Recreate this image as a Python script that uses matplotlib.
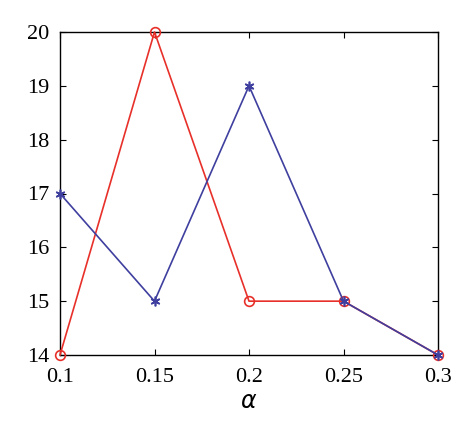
import matplotlib
matplotlib.use("Agg")
import matplotlib.pyplot as plt

alpha = [0.1, 0.15, 0.2, 0.25, 0.3]
red_vals = [14, 20, 15, 15, 14]
blue_vals = [17, 15, 19, 15, 14]
xticks = [0.1, 0.15, 0.2, 0.25, 0.3]
xticklabels = ["0.1", "0.15", "0.2", "0.25", "0.3"]
yticks = [14, 15, 16, 17, 18, 19, 20]

plt.rcParams['font.family'] = ['Liberation Serif']
fig = plt.figure(figsize=(4.74, 4.40), dpi=100)
ax = fig.add_axes([60/474, 1-355/440, 378/474, 323/440])
ax.plot(alpha, red_vals, color='#e8302a', marker='o', mfc='none', ms=7, lw=1.2, mew=1.2, clip_on=False, zorder=3)
ax.plot(alpha, blue_vals, color='#3f3f9f', marker=(6, 2, 0), ms=7, lw=1.2, mew=1.2, clip_on=False, zorder=3)
ax.set_xlim(0.1, 0.3)
ax.set_ylim(14, 20)
ax.set_xticks(xticks)
ax.set_xticklabels(xticklabels)
ax.set_yticks(yticks)
ax.tick_params(direction='in', labelsize=16, top=True, right=True, length=4)
ax.tick_params(axis='x', pad=9)
ax.tick_params(axis='y', pad=8)
ax.set_xlabel(r'$\alpha$', fontsize=17)
for s in ax.spines.values():
    s.set_linewidth(1.0)
fig.savefig("out.png", dpi=100)
